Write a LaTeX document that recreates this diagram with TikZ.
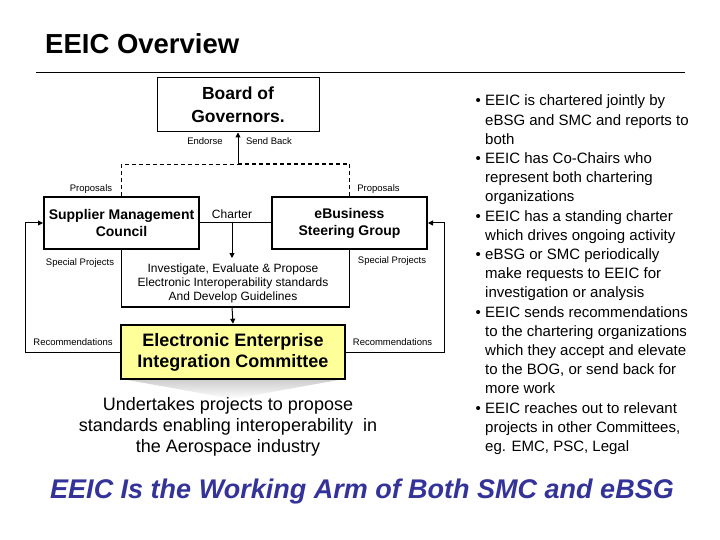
\documentclass[tikz,border=0pt]{standalone}
\usepackage{fontspec}
\setmainfont{Liberation Sans}
\usetikzlibrary{arrows.meta}
\definecolor{eeicyellow}{RGB}{255,255,153}
\definecolor{armblue}{RGB}{51,51,153}
\begin{document}
\begin{tikzpicture}[x=1pt,y=-1pt,
  box/.style={draw, align=center, inner sep=0pt},
  lbl/.style={font=\fontsize{9.5}{11}\selectfont, inner sep=0pt},
  conn/.style={line width=1pt},
  arr/.style={conn, -{Triangle[length=5pt,width=5pt]}},
  dashthin/.style={line width=0.9pt, dash pattern=on 4pt off 3pt},
  dashthick/.style={line width=1.6pt, dash pattern=on 4pt off 3pt},
]
\useasboundingbox (0,0) rectangle (720,540);

% title and rule
\node[anchor=base west, inner sep=0pt, font=\bfseries\fontsize{27.5}{30}\selectfont] (title) at (45,54) {EEIC Overview};
\draw[line width=1pt] (36,72.5) -- (685,72.5);

% shadow under EEIC
\shade[top color=gray!40, bottom color=white] (122,379) -- (344,379) -- (233,399) -- cycle;

% boxes
\node[box, line width=1pt, minimum width=162pt, minimum height=54pt, font=\bfseries\fontsize{17.5}{23}\selectfont] (bog) at (238,105) {Board of\\Governors.};
\node[box, line width=2pt, minimum width=155pt, minimum height=52pt, font=\bfseries\fontsize{14}{17}\selectfont] (smc) at (121.5,223) {Supplier Management\\Council};
\node[box, line width=2pt, minimum width=155pt, minimum height=52pt, font=\bfseries\fontsize{14}{17}\selectfont] (ebsg) at (349.5,223) {eBusiness\\Steering Group};
\node[align=center, inner sep=0pt, font=\fontsize{12}{14.2}\selectfont] (inv) at (233,283.5) {Investigate, Evaluate \& Propose\\Electronic Interoperability standards\\And Develop Guidelines};
\node[box, fill=eeicyellow, line width=2.5pt, minimum width=224pt, minimum height=54pt, font=\bfseries\fontsize{18}{21}\selectfont] (eeic) at (233,352) {Electronic Enterprise\\Integration Committee};

% labels
\node[lbl] (endorse) at (205,141) {Endorse};
\node[lbl] (sendback) at (269,141) {Send Back};
\node[lbl] (propl) at (91,189) {Proposals};
\node[lbl] (propr) at (378.5,189) {Proposals};
\node[lbl, font=\fontsize{12}{14}\selectfont] (charter) at (232,214) {Charter};
\node[lbl] (spl) at (80,263) {Special Projects};
\node[lbl] (spr) at (392,261) {Special Projects};
\node[lbl] (recl) at (73,342) {Recommendations};
\node[lbl] (recr) at (392.5,342) {Recommendations};

% connectors
\coordinate (j) at (238,164);
\draw[dashthin] (smc.north) |- (j);
\draw[dashthick] (ebsg.north) |- (j);
\draw[arr] (j) -- (bog.south);
\draw[conn] (smc.east) -- (ebsg.west);
\coordinate (ch) at (232,223);
\coordinate (invtop) at (232,258);
\draw[arr] (ch) -- (invtop);
\coordinate (invbot) at (232,307);
\draw[line width=1.5pt] (smc.south) -- (smc.south |- invbot) -- (ebsg.south |- invbot) -- (ebsg.south);
\draw[arr] (invbot) -- (eeic.north);
\draw[arr] (eeic.west) -- ++(-94,0) |- (smc.west);
\draw[arr] (eeic.east) -- ++(98,0) |- (ebsg.east);

% text below
\node[align=center, inner sep=0pt, font=\fontsize{18}{21}\selectfont] (under) at (228,427) {Undertakes projects to propose\\standards enabling interoperability\ \ in\\the Aerospace industry};

% bullets
\node[anchor=base west, inner sep=0pt, font=\fontsize{15}{19.2}\selectfont] (bullets) at (475.5,106) {\begin{tabular}[t]{@{}p{9.5pt}@{}l@{}}
•&EEIC is chartered jointly by\\
&eBSG and SMC and reports to\\
&both\\
•&EEIC has Co-Chairs who\\
&represent both chartering\\
&organizations\\
•&EEIC has a standing charter\\
&which drives ongoing activity\\
•&eBSG or SMC periodically\\
&make requests to EEIC for\\
&investigation or analysis\\
•&EEIC sends recommendations\\
&to the chartering organizations\\
&which they accept and elevate\\
&to the BOG, or send back for\\
&more work\\
•&EEIC reaches out to relevant\\
&projects in other Committees,\\
&eg. EMC, PSC, Legal
\end{tabular}};

% bottom statement
\node[inner sep=0pt, text=armblue, font=\bfseries\itshape\fontsize{27}{30}\selectfont] (arm) at (362,492) {EEIC Is the Working Arm of Both SMC and eBSG};
\end{tikzpicture}
\end{document}
